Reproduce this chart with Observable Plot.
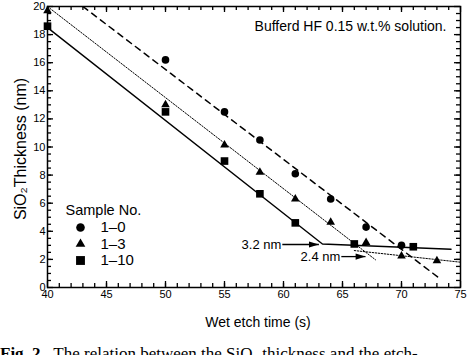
<!DOCTYPE html>
<html><head><meta charset="utf-8">
<script src="https://cdn.jsdelivr.net/npm/d3@7"></script>
<script src="https://cdn.jsdelivr.net/npm/@observablehq/plot@0.6"></script>
<style>
body{margin:0;background:#fff;width:474px;height:355px;overflow:hidden;position:relative;}
#cap{position:absolute;left:0;top:345px;font:17px "Liberation Serif","DejaVu Serif",serif;line-height:1;white-space:nowrap;color:#000;}
</style></head><body>
<div id="chart"></div>
<div id="cap"><b>Fig. 2</b>&nbsp;&nbsp;&nbsp;The relation between the SiO<sub style="font-size:11px">2</sub> thickness and the etch-</div>
<script>
// Sample 1-0 (circles)
const s0x = [50, 55, 58, 61, 64, 67, 70];
const s0y = [16.2, 12.5, 10.5, 8.1, 6.3, 4.3, 3.0];
// Sample 1-3 (triangles)
const s3x = [40, 50, 55, 58, 61, 64, 67, 70, 73];
const s3y = [19.7, 13.0, 10.15, 8.2, 6.3, 4.65, 3.2, 2.25, 1.9];
// Sample 1-10 (squares)
const s10x = [40, 50, 55, 58, 61, 66, 71];
const s10y = [18.6, 12.5, 9.0, 6.67, 4.6, 3.1, 2.9];
// fitted lines (endpoints)
const fit0 = [[43, 20], [73.3, 0.6]];
const fit3a = [[40, 20], [67.8, 1.97]];
const fit3b = [[66, 2.63], [75, 1.8]];
const fit10 = [[40, 18.5], [63.3, 3.1], [74.2, 2.72]];
// annotations
const arrows = [
  {label: "3.2 nm", from: 59.9, to: 63.0, y: 3.06},
  {label: "2.4 nm", from: 64.9, to: 66.95, y: 2.2}
];
const note = ["Bufferd HF 0.15 w.t.% solution."];
const legendTitle = ["Sample No."];
const legendItems = [
  {label: "1–0", symbol: "circle", r: 4.3},
  {label: "1–3", symbol: "triangle", r: 3.6},
  {label: "1–10", symbol: "square", r: 5}
];
const xMajor = [40, 45, 50, 55, 60, 65, 70, 75];
const xMinor = d3.range(41, 75, 1);
const yMajor = [0, 2, 4, 6, 8, 10, 12, 14, 16, 18, 20];
const yMinor = d3.range(0.5, 20, 0.5);
const xLabel = ["Wet etch time (s)"];
const yLabel = ["SiO₂Thickness (nm)"];

const W = 474, H = 335, ML = 47, MR = 14, MT = 6, MB = 48;
const FW = W - ML - MR, FH = H - MT - MB;
const pts = (xs, ys) => xs.map((x, i) => ({x, y: ys[i]}));
const arrowHead = {draw(ctx, size){ const s = Math.sqrt(size/Math.PI); ctx.moveTo(0,0); ctx.lineTo(-2.6*s,-0.8*s); ctx.lineTo(-2.6*s,0.8*s); ctx.closePath(); }};
const tk = {stroke: "black", strokeWidth: 1.3};

const plot = Plot.plot({
  width: W, height: H,
  marginLeft: ML, marginRight: MR, marginTop: MT, marginBottom: MB,
  x: {domain: [40, 75]},
  y: {domain: [0, 20]},
  style: {fontFamily: "'Liberation Sans', Arial, sans-serif", background: "white", color: "black"},
  marks: [
    // inward ticks, all four sides
    Plot.ruleX(xMinor, {x: d => d, insetTop: FH - 4, ...tk}),
    Plot.ruleX(xMajor, {x: d => d, insetTop: FH - 6, ...tk}),
    Plot.ruleX(xMinor, {x: d => d, insetBottom: FH - 4, ...tk}),
    Plot.ruleX(xMajor, {x: d => d, insetBottom: FH - 6, ...tk}),
    Plot.ruleY(yMinor, {y: d => d, insetRight: FW - 4, ...tk}),
    Plot.ruleY(yMajor, {y: d => d, insetRight: FW - 6, ...tk}),
    Plot.ruleY(yMinor, {y: d => d, insetLeft: FW - 4, ...tk}),
    Plot.ruleY(yMajor, {y: d => d, insetLeft: FW - 6, ...tk}),
    Plot.axisX(xMajor, {anchor: "bottom", tickSize: 0, tickPadding: 3, fontSize: 11, label: null}),
    Plot.axisY(yMajor, {anchor: "left", tickSize: 0, tickPadding: 2, fontSize: 11, label: null}),
    Plot.frame({stroke: "black", strokeWidth: 1.5}),
    Plot.line(fit0, {x: d => d[0], y: d => d[1], stroke: "black", strokeWidth: 1.5, strokeDasharray: "6,5", clip: true}),
    Plot.line(fit3a, {x: d => d[0], y: d => d[1], stroke: "black", strokeWidth: 1, strokeDasharray: "1.5,1.5", clip: true}),
    Plot.line(fit3b, {x: d => d[0], y: d => d[1], stroke: "black", strokeWidth: 1, strokeDasharray: "1.5,1.5", clip: true}),
    Plot.line(fit10, {x: d => d[0], y: d => d[1], stroke: "black", strokeWidth: 1.4}),
    Plot.dot(pts(s0x, s0y), {x: "x", y: "y", symbol: "circle", r: 3.8, fill: "black"}),
    Plot.dot(pts(s3x, s3y), {x: "x", y: "y", symbol: "triangle", r: 3.2, fill: "black"}),
    Plot.dot(pts(s10x, s10y), {x: "x", y: "y", symbol: "square", r: 4.3, fill: "black"}),
    Plot.link(arrows, {x1: "from", x2: "to", y1: "y", y2: "y", stroke: "black", strokeWidth: 1.3}),
    Plot.dot(arrows, {x: "to", y: "y", symbol: arrowHead, r: 3.8, fill: "black"}),
    Plot.text(arrows, {x: "from", y: "y", text: "label", textAnchor: "end", dx: -1, fontSize: 13}),
    Plot.text(note, {frameAnchor: "top-right", dx: -14, dy: 20, textAnchor: "end", lineAnchor: "middle", fontSize: 14}),
    Plot.text(legendTitle, {frameAnchor: "bottom-left", dx: 18, dy: -77, textAnchor: "start", lineAnchor: "middle", fontSize: 14.5}),
    ...legendItems.map((d, i) => Plot.dot([d], {frameAnchor: "bottom-left", dx: 33, dy: -60 + i * 16.5, symbol: d.symbol, r: d.r, fill: "black"})),
    ...legendItems.map((d, i) => Plot.text([d], {frameAnchor: "bottom-left", dx: 53, dy: -60 + i * 16.5, text: "label", textAnchor: "start", lineAnchor: "middle", fontSize: 15})),
    Plot.text(xLabel, {frameAnchor: "bottom", dx: 4, dy: 35, textAnchor: "middle", lineAnchor: "middle", fontSize: 14}),
    Plot.text(yLabel, {frameAnchor: "left", dx: -27, dy: 2, rotate: -90, textAnchor: "middle", lineAnchor: "middle", fontSize: 16})
  ]
});
document.getElementById("chart").appendChild(plot);
</script>
</body></html>
